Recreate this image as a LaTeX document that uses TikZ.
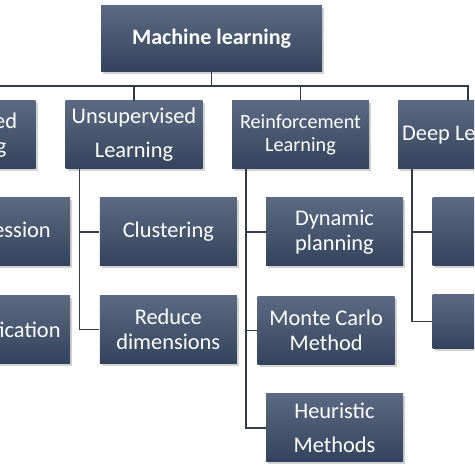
\documentclass[tikz,border=0pt]{standalone}
\usepackage{fontspec}
\setmainfont{Carlito}
\usetikzlibrary{positioning,shadows}

\definecolor{boxtop}{RGB}{92,105,130}
\definecolor{boxbot}{RGB}{52,67,93}
\definecolor{wirecol}{RGB}{50,60,76}

\begin{document}
\begin{tikzpicture}[x=0.5pt,y=0.5pt,node distance=14pt,
  box/.style={rectangle,top color=boxtop,bottom color=boxbot,draw=none,
    minimum width=68.5pt,minimum height=34pt,inner sep=2pt,align=center,
    text=white,font=\fontsize{11.2}{12.5}\selectfont,
    drop shadow={shadow xshift=1pt,shadow yshift=-1.2pt,opacity=0.35}},
  wire/.style={draw=wirecol,line width=0.8pt}]

  \useasboundingbox (0,0) rectangle (474,474);
  \fill[white] (0,0) rectangle (474,474);
  \clip (0,0) rectangle (474,474);

  % root
  \node[box,minimum width=110.5pt,minimum height=33pt,
    font=\bfseries\fontsize{11}{12.5}\selectfont] (ml) at (211.5,435) {Machine learning};

  % second level
  \node[box] (uns) at (134,339) {Unsupervised\\[4.5pt]Learning};
  \node[box,left=14.5pt of uns] (sup) {Supervised\\Learning};
  \node[box,right=14.35pt of uns,font=\fontsize{10.1}{11.5}\selectfont] (rl) {Reinforcement\\Learning};
  \node[box,right=14.15pt of rl,minimum width=69pt] (dl) {Deep Learning};

  % third level
  \node[box,below=14pt of sup,xshift=17.15pt] (reg) {Regression};
  \node[box,below=14.5pt of reg] (cla) {Classification};
  \node[box,below=14pt of uns,xshift=17.15pt] (clu) {Clustering};
  \node[box,below=14.5pt of clu] (red) {Reduce\\dimensions};
  \node[box,below=14pt of rl,xshift=17pt] (dyn) {Dynamic\\planning};
  \node[box,below=15pt of dyn,xshift=-4.15pt] (mcm) {Monte Carlo\\Method};
  \node[box,below=14.2pt of mcm,xshift=4.15pt] (heu) {Heuristic\\[4.5pt]Methods};
  \node[box,below=14pt of dl,xshift=16.75pt] (dlA) {};
  \node[box,below=14pt of dlA,minimum height=27pt] (dlB) {};

  % bus
  \coordinate (bus) at (211.5,388);
  \draw[wire] (ml.south) -- (bus);
  \draw[wire] (sup.north) |- (bus) -| (dl.north);
  \draw[wire] (uns.north) -- (uns.north |- bus);
  \draw[wire] (rl.north) -- (rl.north |- bus);

  % branches
  \foreach \a/\b in {sup/reg,sup/cla,uns/clu,uns/red,rl/dyn,rl/mcm,rl/heu,dl/dlA,dl/dlB}
    \draw[wire] ([xshift=7.15pt]\a.south west) |- (\b.west);

\end{tikzpicture}
\end{document}
